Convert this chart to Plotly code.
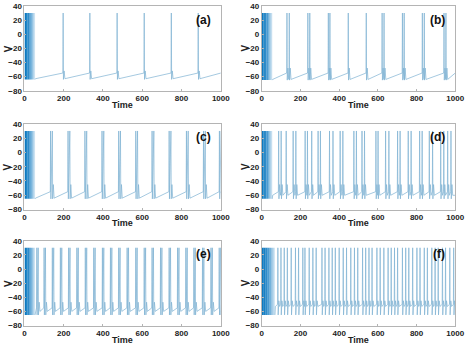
import plotly.graph_objects as go

# ---------------- data ----------------
panel_labels = ["(a)", "(b)", "(c)", "(d)", "(e)", "(f)"]

spikes_a = [197, 333, 472, 610, 748, 885]
spikes_b = [130, 142, 238, 248, 344, 352, 447, 540, 622, 632, 727, 736, 830, 840, 942, 952]
spikes_c = [133, 222, 308, 395, 480, 567, 650, 737, 825, 912, 993]
spikes_d = [87, 100, 126, 162, 176, 224, 236, 258, 291, 303, 350, 368, 405, 419, 476, 489,
            518, 531, 590, 601, 640, 657, 702, 715, 757, 772, 816, 829, 866, 883, 925, 941,
            961, 978]
spikes_e = [63, 100, 142, 183, 225, 267, 310, 353, 397, 438, 480, 523, 567, 610, 650, 693,
            737, 780, 822, 863, 907, 950, 992]
spikes_f = [83, 99, 116, 132, 152, 174, 190, 212, 223, 245, 264, 281, 311, 327, 347, 364,
            380, 400, 421, 438, 460, 479, 496, 521, 537, 554, 570, 595, 612, 631, 653, 669,
            686, 702, 727, 744, 760, 780, 802, 818, 840, 856, 879, 896, 912, 934, 950, 972, 992]
spike_sets = [spikes_a, spikes_b, spikes_c, spikes_d, spikes_e, spikes_f]

# spikes that appear as a pale double band: spacing of the second spike (0 = single)
spike_pair_gap = [0, 0, 9, 0, 7, 0]

# voltage levels per panel: reset (min), pre-spike threshold, post-spike bump
v_peak = 30
v_reset = [-64, -65, -65, -65, -65, -65]
v_low = [-63, -64, -64, -60, -60, -53]
v_thresh = [-55, -55, -55, -55, -55, -50]
v_bump = [-52, -48, -45, -45, -47, -45]
t_end = 1000

# initial dense transient: band edges (time) and darkness of each band
burst_edges = [[0, 8, 16, 24, 32, 38, 44, 50, 54],
               [0, 8, 16, 24, 32, 38, 44, 50, 54],
               [0, 8, 16, 24, 32, 38, 44, 50, 54],
               [0, 8, 16, 24, 32, 38, 44, 50, 54],
               [0, 8, 16, 24, 32, 38, 44, 50, 54],
               [0, 10, 20, 30, 40, 48, 56, 62, 68]]
burst_alpha = [0.95, 0.9, 0.82, 0.7, 0.55, 0.42, 0.3, 0.18]

x_ticks = [0, 200, 400, 600, 800, 1000]
y_ticks = [-80, -60, -40, -20, 0, 20, 40]

# ---------------- layout geometry ----------------
W, H = 474, 350
x_doms = [(23 / W, 224 / W), (266 / W, 464 / W)]
y_doms = [(1 - 89 / H, 1 - 2 / H), (1 - 211 / H, 1 - 123 / H), (1 - 330 / H, 1 - 243 / H)]
time_y = [104, 225, 345]

fig = go.Figure()
blue = "0,114,189"

annotations = []
for i in range(6):
    r, c = divmod(i, 2)
    ax = "" if i == 0 else str(i + 1)
    xa, ya = "x" + ax, "y" + ax
    sp = spike_sets[i]
    end = burst_edges[i][-1]

    # dense initial transient as shaded bands
    for k in range(len(burst_edges[i]) - 1):
        x0, x1 = burst_edges[i][k], burst_edges[i][k + 1]
        fig.add_trace(go.Scatter(
            x=[x0, x1, x1, x0, x0], y=[v_reset[i], v_reset[i], v_peak, v_peak, v_reset[i]],
            fill="toself", fillcolor=f"rgba({blue},{burst_alpha[k]})", mode="lines",
            line=dict(width=0), xaxis=xa, yaxis=ya, showlegend=False, hoverinfo="skip"))

    # membrane trace
    xs, ys = [end, end + 2], [v_reset[i], v_low[i]]
    g = spike_pair_gap[i]
    for t in sp:
        xs += [t - 1.5, t, t + 1.5]
        ys += [v_thresh[i], v_peak, v_reset[i]]
        if g:
            xs += [t + g, t + g + 1.5]
            ys += [v_peak, v_reset[i]]
            t = t + g
        xs += [t + 5, t + 9]
        ys += [v_bump[i], v_low[i]]
    xs.append(t_end)
    ys.append(v_thresh[i] if i in (0, 1, 2) else v_low[i])
    fig.add_trace(go.Scatter(x=xs, y=ys, mode="lines",
                             line=dict(color="#7eb2d2", width=0.7),
                             xaxis=xa, yaxis=ya, showlegend=False, hoverinfo="skip"))

    axis_common = dict(showline=True, mirror=True, linecolor="#b4b4b4", linewidth=1,
                       ticks="inside", ticklen=2, tickcolor="#b4b4b4", showgrid=False,
                       zeroline=False,
                       tickfont=dict(family="Liberation Sans", size=8, color="#222222",
                                     weight="bold"))
    fig.layout["xaxis" + ax] = dict(domain=x_doms[c], range=[0, 1000], tickvals=x_ticks,
                                    anchor=ya, **axis_common)
    fig.layout["yaxis" + ax] = dict(domain=y_doms[r], range=[-80, 40], tickvals=y_ticks,
                                    anchor=xa, **axis_common)

    # axis titles
    xmid = (x_doms[c][0] + x_doms[c][1]) / 2
    annotations.append(dict(text="<b>Time</b>", x=xmid, y=1 - time_y[r] / H, xref="paper",
                            yref="paper", showarrow=False, xanchor="center", yanchor="middle",
                            font=dict(family="Liberation Sans", size=9, color="#222222")))
    ymid = (y_doms[r][0] + y_doms[r][1]) / 2
    annotations.append(dict(text="<b>V</b>", x=(x_doms[c][0] * W - 17) / W, y=ymid,
                            xref="paper", yref="paper", showarrow=False, textangle=-90,
                            xanchor="center", yanchor="middle",
                            font=dict(family="Liberation Sans", size=10, color="#222222")))
    # panel label
    annotations.append(dict(text="<b>" + panel_labels[i] + "</b>",
                            x=(x_doms[c][1] * W - 8) / W, y=y_doms[r][1] - 14 / H,
                            xref="paper", yref="paper", showarrow=False, xanchor="right",
                            yanchor="middle",
                            font=dict(family="Liberation Sans", size=12, color="#111111")))

fig.update_layout(width=W, height=H, margin=dict(l=0, r=0, t=0, b=0),
                  paper_bgcolor="white", plot_bgcolor="white", annotations=annotations)
fig.write_html("out.html")
